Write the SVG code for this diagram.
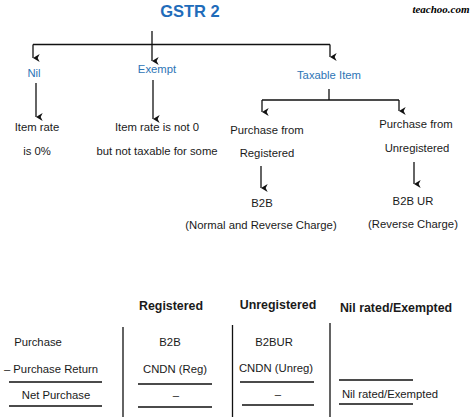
<svg xmlns="http://www.w3.org/2000/svg" width="474" height="417" viewBox="0 0 474 417">
<defs>
<marker id="arr" markerUnits="userSpaceOnUse" markerWidth="8" markerHeight="8" refX="3" refY="6" orient="auto-start-reverse" viewBox="0 0 6 6">
<path d="M0,1 L3,6 L6,1 L3,2.5 Z" fill="#111"/>
</marker>
<style>
text{font-family:"Liberation Sans",Arial,sans-serif;font-size:11.3px;fill:#1a1a1a;text-anchor:middle}
.blue{fill:#2E75B6}
.title{font-size:16.5px;font-weight:bold;fill:#1F6CBA}
.hd{font-size:12.4px;font-weight:bold}
.ln{stroke:#111;stroke-width:1.3;fill:none}
.arr{stroke:#111;stroke-width:1.3;fill:none;marker-end:url(#arr)}
.wm{font-family:"Liberation Serif",serif;font-style:italic;font-weight:bold;font-size:11px;fill:#000}
</style>
</defs>
<rect width="474" height="417" fill="#fff"/>
<text class="wm" x="441" y="13">teachoo.com</text>

<g id="connectors">
<path class="ln" d="M152,31 V44.5 M33,44.5 H330"/>
<path class="arr" d="M33,44.5 V58"/>
<path class="arr" d="M152,44.5 V61"/>
<path class="arr" d="M330,44.5 V57"/>
<path class="arr" d="M36,83 V117"/>
<path class="arr" d="M153,80 V119"/>
<path class="ln" d="M329,89 V100 M262,100 H399"/>
<path class="arr" d="M262,100 V112"/>
<path class="arr" d="M399,100 V111"/>
<path class="arr" d="M261,166 V188"/>
<path class="arr" d="M414,162 V184"/>
</g>

<g id="gstr2"><text class="title" x="190" y="17">GSTR 2</text></g>
<g id="nil"><text class="blue" x="34" y="77">Nil</text></g>
<g id="exempt"><text class="blue" x="157" y="73">Exempt</text></g>
<g id="taxable"><text class="blue" x="329" y="79">Taxable Item</text></g>
<g id="nil-desc"><text x="37" y="131">Item rate</text><text x="37" y="155">is 0%</text></g>
<g id="exempt-desc"><text x="157" y="131">Item rate is not 0</text><text x="157" y="155">but not taxable for some</text></g>
<g id="from-reg"><text x="267" y="134">Purchase from</text><text x="267" y="157">Registered</text></g>
<g id="from-unreg"><text x="416" y="128">Purchase from</text><text x="417" y="152">Unregistered</text></g>
<g id="b2b"><text x="262" y="207">B2B</text><text x="261" y="229">(Normal and Reverse Charge)</text></g>
<g id="b2bur"><text x="413" y="205">B2B UR</text><text x="413" y="228">(Reverse Charge)</text></g>

<g id="table">
<text class="hd" x="171" y="310">Registered</text>
<text class="hd" x="278" y="309">Unregistered</text>
<text class="hd" x="396" y="312">Nil rated/Exempted</text>
<path class="ln" d="M123,327 V417 M232.5,325 V417 M330,323 V417"/>
<text x="38" y="346">Purchase</text>
<text x="51" y="373">– Purchase Return</text>
<path class="ln" d="M9,382 H102 M9,406 H102"/>
<text x="56" y="399">Net Purchase</text>
<text x="170" y="346">B2B</text>
<text x="175" y="373">CNDN (Reg)</text>
<path class="ln" d="M138,384 H212 M138,407 H212"/>
<text x="176" y="399">–</text>
<text x="274" y="346">B2BUR</text>
<text x="276" y="372">CNDN (Unreg)</text>
<path class="ln" d="M240,382 H314 M242,405 H314"/>
<text x="278" y="398">–</text>
<path class="ln" d="M339,380 H413 M339,404 H413"/>
<text x="390" y="398">Nil rated/Exempted</text>
</g>
</svg>
